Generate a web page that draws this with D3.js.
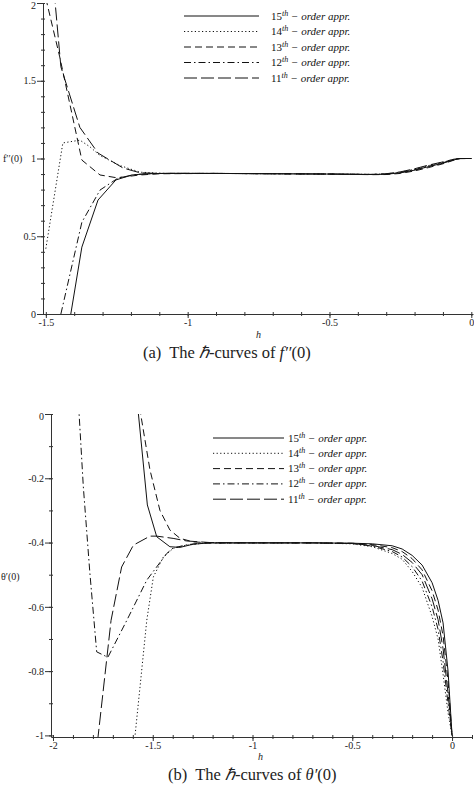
<!DOCTYPE html>
<html>
<head>
<meta charset="utf-8">
<script src="https://cdn.jsdelivr.net/npm/d3@7"></script>
<style>
  body { margin: 0; background: #fff; }
  svg { display: block; }
  .tick text { font-family: "Liberation Serif", serif; font-size: 10px; fill: #222; }
  .axis path, .axis line { stroke: #333; }
</style>
</head>
<body>
<svg id="chart" width="474" height="801"></svg>
<script>
// ---- panel (a): f''(0) against h ----
const fpp15 = [[-1.412,0],[-1.373,0.43],[-1.316,0.733],[-1.253,0.862],[-1.197,0.894],[-1.144,0.902],[-1.05,0.905],[-0.9,0.904],[-0.7,0.902],[-0.5,0.9],[-0.35,0.897],[-0.3,0.899],[-0.25,0.908],[-0.2,0.925],[-0.15,0.948],[-0.1,0.97],[-0.06,0.992],[-0.04,1.0],[0,1.0]];
const fpp14 = [[-1.5,0.42],[-1.44,1.10],[-1.38,1.118],[-1.345,1.076],[-1.31,1.02],[-1.239,0.955],[-1.168,0.912],[-1.08,0.904],[-0.9,0.904],[-0.7,0.902],[-0.5,0.9],[-0.35,0.898],[-0.3,0.901],[-0.25,0.912],[-0.2,0.93],[-0.15,0.955],[-0.1,0.976],[-0.06,0.995],[-0.04,1.0],[0,1.0]];
const fpp13 = [[-1.5,2.03],[-1.451,1.653],[-1.373,0.99],[-1.309,0.894],[-1.25,0.876],[-1.168,0.894],[-1.098,0.902],[-0.9,0.904],[-0.7,0.902],[-0.5,0.9],[-0.35,0.896],[-0.3,0.897],[-0.25,0.904],[-0.2,0.92],[-0.15,0.942],[-0.1,0.966],[-0.06,0.99],[-0.04,0.999],[0,1.0]];
const fpp12 = [[-1.447,0],[-1.373,0.59],[-1.309,0.797],[-1.245,0.875],[-1.18,0.898],[-1.1,0.904],[-0.9,0.904],[-0.7,0.902],[-0.5,0.9],[-0.35,0.897],[-0.3,0.9],[-0.25,0.91],[-0.2,0.927],[-0.15,0.95],[-0.1,0.973],[-0.06,0.993],[-0.04,1.0],[0,1.0]];
const fpp11 = [[-1.471,2.08],[-1.447,1.59],[-1.38,1.20],[-1.316,1.035],[-1.228,0.939],[-1.168,0.908],[-1.1,0.904],[-0.9,0.904],[-0.7,0.902],[-0.5,0.9],[-0.35,0.898],[-0.3,0.902],[-0.25,0.914],[-0.2,0.934],[-0.15,0.958],[-0.1,0.978],[-0.06,0.996],[-0.04,1.0],[0,1.0]];

// ---- panel (b): theta'(0) against h ----
const th15 = [[-1.575,0.02],[-1.527,-0.283],[-1.48,-0.382],[-1.414,-0.413],[-1.363,-0.415],[-1.297,-0.405],[-1.213,-0.401],[-1.0,-0.401],[-0.7,-0.401],[-0.5,-0.402],[-0.4,-0.404],[-0.3,-0.41],[-0.25,-0.42],[-0.2,-0.44],[-0.15,-0.47],[-0.1,-0.525],[-0.07,-0.58],[-0.045,-0.65],[-0.02,-0.8],[0,-1.0]];
const th14 = [[-1.592,-1.02],[-1.564,-0.85],[-1.53,-0.642],[-1.497,-0.507],[-1.447,-0.445],[-1.397,-0.418],[-1.33,-0.408],[-1.23,-0.401],[-1.0,-0.401],[-0.7,-0.401],[-0.5,-0.404],[-0.4,-0.413],[-0.3,-0.434],[-0.25,-0.452],[-0.2,-0.49],[-0.15,-0.54],[-0.1,-0.63],[-0.07,-0.7],[-0.045,-0.81],[-0.02,-0.93],[0,-1.0]];
const th13 = [[-1.566,0.02],[-1.514,-0.174],[-1.464,-0.3],[-1.414,-0.361],[-1.363,-0.387],[-1.297,-0.398],[-1.2,-0.401],[-1.0,-0.401],[-0.7,-0.401],[-0.5,-0.402],[-0.4,-0.406],[-0.3,-0.416],[-0.25,-0.428],[-0.2,-0.45],[-0.15,-0.485],[-0.1,-0.55],[-0.07,-0.61],[-0.045,-0.69],[-0.02,-0.83],[0,-1.0]];
const th12 = [[-1.872,0.03],[-1.848,-0.226],[-1.815,-0.496],[-1.781,-0.74],[-1.725,-0.757],[-1.63,-0.642],[-1.53,-0.517],[-1.43,-0.434],[-1.398,-0.417],[-1.33,-0.407],[-1.263,-0.402],[-1.0,-0.401],[-0.7,-0.401],[-0.5,-0.403],[-0.4,-0.411],[-0.3,-0.428],[-0.25,-0.445],[-0.2,-0.475],[-0.15,-0.52],[-0.1,-0.6],[-0.07,-0.67],[-0.045,-0.77],[-0.02,-0.9],[0,-1.0]];
const th11 = [[-1.777,-1.02],[-1.709,-0.642],[-1.656,-0.476],[-1.597,-0.408],[-1.514,-0.38],[-1.48,-0.38],[-1.398,-0.387],[-1.331,-0.395],[-1.213,-0.40],[-1.0,-0.401],[-0.7,-0.401],[-0.5,-0.403],[-0.4,-0.409],[-0.3,-0.422],[-0.25,-0.437],[-0.2,-0.462],[-0.15,-0.5],[-0.1,-0.575],[-0.07,-0.64],[-0.045,-0.73],[-0.02,-0.87],[0,-1.0]];

const orders = ["15", "14", "13", "12", "11"];
const dashes = [null, "1.2,2.4", "7,4", "7,3,1.5,3", "13,4"];

const topYTicks = [0, 0.5, 1, 1.5, 2];
const topXTicks = [-1.5, -1, -0.5, 0];
const botYTicks = [-1, -0.8, -0.6, -0.4, -0.2, 0];
const botXTicks = [-2, -1.5, -1, -0.5, 0];

const svg = d3.select("#chart");

function drawPanel(p) {
  const x = d3.scaleLinear().domain(p.xDomain).range(p.xRange);
  const y = d3.scaleLinear().domain(p.yDomain).range(p.yRange);
  const g = svg.append("g");
  const x0 = p.xRange[0], y0 = p.yRange[0];

  // clip to the plot box
  g.append("clipPath").attr("id", p.id + "-clip")
    .append("rect")
    .attr("x", x0).attr("y", p.yRange[1])
    .attr("width", p.xRange[1] - x0).attr("height", y0 - p.yRange[1]);

  // minor ticks (both sides of the axis)
  g.append("g").attr("class", "axis").attr("transform", `translate(0,${y0 + 2})`)
    .call(d3.axisBottom(x).tickValues(p.xMinor).tickSize(-4).tickFormat(""))
    .call(s => s.select(".domain").remove());
  g.append("g").attr("class", "axis").attr("transform", `translate(${x0 - 2},0)`)
    .call(d3.axisLeft(y).tickValues(p.yMinor).tickSize(-4).tickFormat(""))
    .call(s => s.select(".domain").remove());

  // major ticks + labels
  g.append("g").attr("class", "axis").attr("transform", `translate(0,${y0})`)
    .call(d3.axisBottom(x).tickValues(p.xTicks).tickSizeInner(4).tickSizeOuter(0).tickPadding(1).tickFormat(d => String(d)));
  g.append("g").attr("class", "axis").attr("transform", `translate(${x0},0)`)
    .call(d3.axisLeft(y).tickValues(p.yTicks).tickSizeInner(6).tickSizeOuter(0).tickPadding(1).tickFormat(d => String(d)))
    .call(s => s.selectAll(".tick text").filter(d => d === p.yDomain[1]).attr("dy", "0.55em"));

  const line = d3.line().x(d => x(d[0])).y(d => y(d[1]));
  const plot = g.append("g").attr("clip-path", `url(#${p.id}-clip)`);
  p.series.forEach((s, i) => {
    plot.append("path")
      .datum(s)
      .attr("d", line)
      .attr("fill", "none")
      .attr("stroke", "#111")
      .attr("stroke-width", 1)
      .attr("stroke-dasharray", dashes[i]);
  });

  // legend
  const lg = g.append("g");
  orders.forEach((o, i) => {
    const ly = p.legend.y + i * p.legend.dy;
    lg.append("line")
      .attr("x1", p.legend.x1).attr("x2", p.legend.x2)
      .attr("y1", ly).attr("y2", ly)
      .attr("stroke", "#111").attr("stroke-width", 1)
      .attr("stroke-dasharray", dashes[i]);
    const t = lg.append("text")
      .attr("x", p.legend.tx).attr("y", ly + 3.5)
      .attr("font-family", "Liberation Serif, serif")
      .attr("font-size", 11).attr("fill", "#111");
    t.append("tspan").text(o);
    t.append("tspan").attr("font-style", "italic").attr("font-size", 8).attr("dy", -4).text("th");
    t.append("tspan").attr("font-style", "italic").attr("dy", 4).text(" \u2212 order appr.");
  });

  // axis titles
  g.append("text")
    .attr("x", p.hLabel[0]).attr("y", p.hLabel[1])
    .attr("font-family", "Liberation Serif, serif").attr("font-style", "italic")
    .attr("font-size", 10).attr("fill", "#222").text("h");
  g.append("text")
    .attr("x", p.yLabel[0]).attr("y", p.yLabel[1])
    .attr("font-family", "Liberation Serif, serif")
    .attr("font-size", 10).attr("fill", "#222").text(p.yTitle);

  // caption
  const c = g.append("text")
    .attr("x", p.caption[0]).attr("y", p.caption[1])
    .attr("font-family", "Liberation Serif, serif")
    .attr("font-size", 16.5).attr("fill", "#222");
  c.append("tspan").text(p.capTag + "\u00a0 The ");
  c.append("tspan").attr("font-style", "italic").text("\u210f");
  c.append("tspan").text("-curves of ");
  c.append("tspan").attr("font-style", "italic").text(p.capSym);
  c.append("tspan").text("(0)");
}

drawPanel({
  id: "pa",
  xDomain: [-1.51, 0.006], xRange: [43, 473],
  yDomain: [0, 2], yRange: [314, 3],
  xTicks: topXTicks, yTicks: topYTicks,
  xMinor: d3.range(-15, 1).map(v => v / 10),
  yMinor: d3.range(0, 21).map(v => v / 10),
  series: [fpp15, fpp14, fpp13, fpp12, fpp11],
  legend: { x1: 184, x2: 259, tx: 271, y: 16, dy: 15.5 },
  hLabel: [256, 338], yLabel: [3, 162], yTitle: "f\u2032\u2032(0)",
  caption: [143, 358], capTag: "(a)", capSym: "f\u2032\u2032"
});

drawPanel({
  id: "pb",
  xDomain: [-2.01, 0.1], xRange: [51, 472],
  yDomain: [-1.005, 0], yRange: [737, 414],
  xTicks: botXTicks, yTicks: botYTicks,
  xMinor: d3.range(-20, 2).map(v => v / 10),
  yMinor: d3.range(-10, 1).map(v => v / 10),
  series: [th15, th14, th13, th12, th11],
  legend: { x1: 213, x2: 284, tx: 288, y: 438, dy: 15.3 },
  hLabel: [258, 760], yLabel: [1, 580], yTitle: "\u03b8\u2032(0)",
  caption: [168, 780], capTag: "(b)", capSym: "\u03b8\u2032"
});
</script>
</body>
</html>
